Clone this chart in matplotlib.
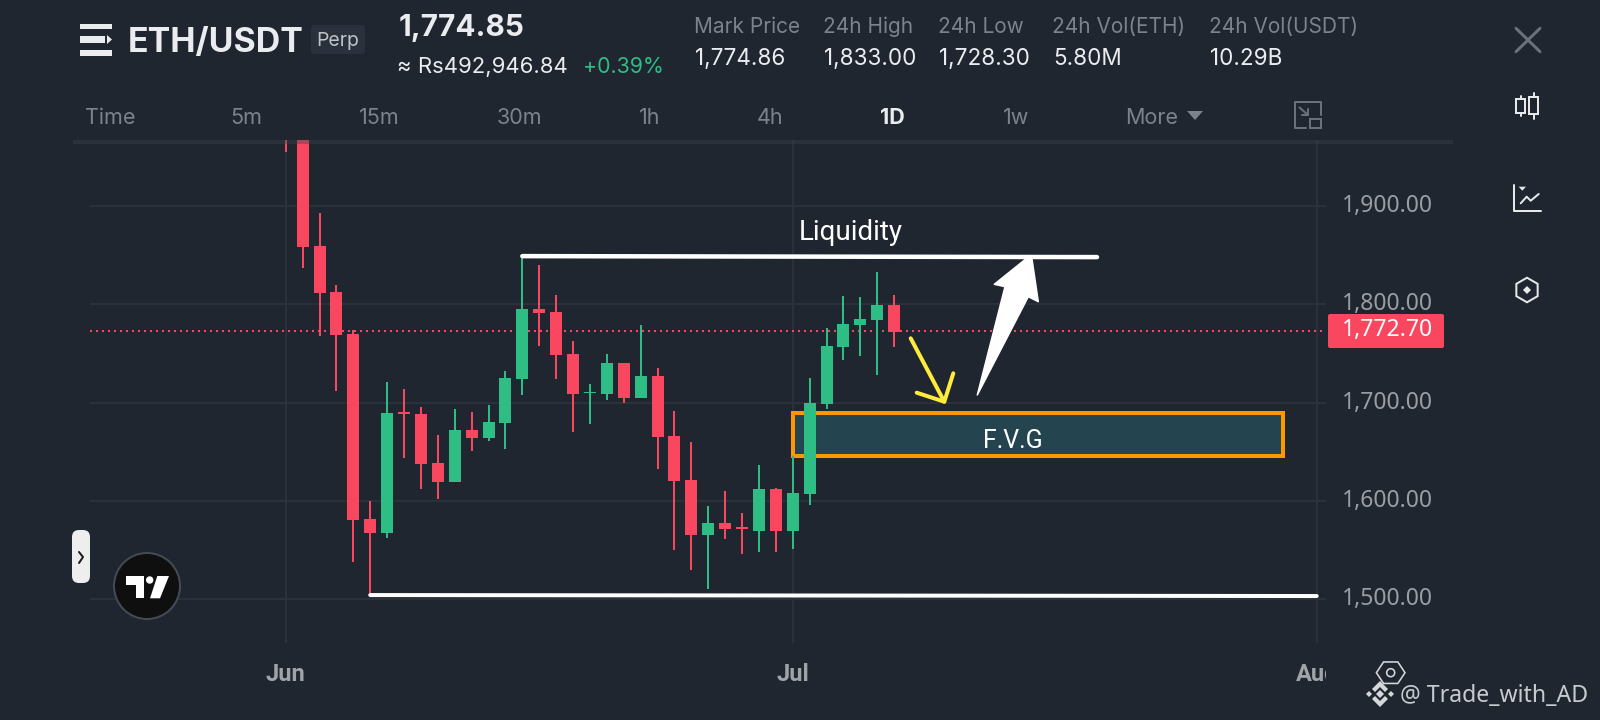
import numpy as np
import matplotlib
matplotlib.use("Agg")
import matplotlib.pyplot as plt
from matplotlib.patches import Rectangle, Polygon, Circle, FancyBboxPatch
from matplotlib.transforms import Bbox, IdentityTransform, TransformedBbox, ScaledTranslation

# candles (day 0 = 1 Jun)
opens = [2020, 1975, 1859.3, 1812.4, 1769.7, 1581.4, 1567.2, 1690.3, 1688.3, 1638.4,
         1619.1, 1672.0, 1663.8, 1679.1, 1724.0, 1795.2, 1792.1, 1749.3, 1709.3, 1708.7,
         1740.2, 1704.6, 1727.0, 1665.9, 1621.1, 1565.1, 1577.3, 1573.3, 1569.2, 1612.0,
         1569.2, 1606.9, 1698.5, 1756.5, 1778.9, 1784.0, 1799.2]
closes = [1975, 1858.3, 1811.4, 1768.7, 1580.4, 1567.2, 1689.3, 1688.3, 1637.4, 1619.1,
          1672.0, 1663.8, 1680.2, 1725.0, 1795.2, 1791.1, 1748.3, 1708.6, 1710.7, 1740.2,
          1704.6, 1727.0, 1664.9, 1620.1, 1565.1, 1577.3, 1571.2, 1571.2, 1612.0, 1569.2,
          1607.9, 1699.5, 1757.5, 1779.9, 1785.0, 1799.2, 1771.7]
highs = [2040, 1985, 1892.9, 1819.6, 1773.8, 1599.7, 1720.9, 1713.7, 1695.4, 1667.0,
         1693.4, 1690.3, 1697.4, 1732.1, 1849.0, 1840.0, 1809.4, 1762.6, 1718.8, 1749.4,
         1740.2, 1778.9, 1735.1, 1691.3, 1659.8, 1594.7, 1610.0, 1587.5, 1636.4, 1613.0,
         1645.6, 1724.9, 1775.8, 1808.4, 1807.4, 1832.8, 1809.4]
lows = [1955, 1837.2, 1768.0, 1711.7, 1537.6, 1503.0, 1562.1, 1643.5, 1612.0, 1601.8,
        1619.1, 1650.6, 1660.8, 1652.7, 1707.6, 1757.5, 1724.0, 1670.0, 1678.0, 1702.5,
        1699.5, 1704.6, 1632.3, 1549.9, 1529.5, 1510.2, 1561.0, 1545.8, 1547.8, 1547.8,
        1550.9, 1595.7, 1693.4, 1743.3, 1747.3, 1728.0, 1756.5]

price_ticks = [1500, 1600, 1700, 1800, 1900]
month_ticks = [0, 30, 61]
month_labels = ["Jun", "Jul", "Aug"]
last_price = 1772.8

# hand drawn levels on the chart
liquidity_days = [14, 48]
liquidity_prices = [1849, 1848]
support_days = [5, 61]
support_prices = [1504, 1503]
fvg_days = [30, 59]
fvg_prices = [1645.5, 1689]

stat_names = ["Mark Price", "24h High", "24h Low", "24h Vol(ETH)", "24h Vol(USDT)"]
stat_values = ["1,774.86", "1,833.00", "1,728.30", "5.80M", "10.29B"]
stat_x = [694, 823, 938, 1052, 1209]
tab_names = ["Time", "5m", "15m", "30m", "1h", "4h", "1D", "1w", "More"]
tab_x = [110, 246, 379, 519, 650, 770, 892, 1016, 1152]

BG = "#1f2630"
GRID = "#2a313b"
RED = "#f8475f"
GREEN = "#2ebd85"
ICON = "#e6e8ea"
MUTED = "#7d838c"


def px(n):
    # pixels to points at dpi 100
    return n * 0.72


plt.rcParams["font.family"] = ["Inter", "Noto Sans", "DejaVu Sans"]
fig = plt.figure(figsize=(16, 7.2), dpi=100, facecolor=BG)

# chart axes, pixel box x 90-1326, y 140-643
ax = fig.add_axes([90 / 1600, 1 - 643 / 720, (1326 - 90) / 1600, (643 - 140) / 720], facecolor=BG)
ax.set_xlim(-11.58, 61.55)
ax.set_ylim(1455.2, 1967.2)
for s in ax.spines.values():
    s.set_visible(False)
ax.grid(True, color=GRID, lw=px(2))
ax.set_axisbelow(True)
ax.yaxis.tick_right()
ax.set_yticks(price_ticks)
ax.set_yticklabels([f"{p:,.2f}" for p in price_ticks], family=["Noto Sans", "DejaVu Sans"],
                   fontsize=16.5, color="#9a9ea4")
ax.set_xticks(month_ticks)
ax.set_xticklabels(month_labels, family=["Roboto", "DejaVu Sans"], fontweight="bold",
                   fontsize=17, color="#a0a4a8")
ax.tick_params(axis="both", length=0)
ax.tick_params(axis="y", pad=px(16))
ax.tick_params(axis="x", pad=px(20))

# price labels sit a little above their grid lines
shift_up = ScaledTranslation(0, 3 / 100, fig.dpi_scale_trans)
for lab in ax.get_yticklabels():
    lab.set_transform(lab.get_transform() + shift_up)

# Aug is cut off by the edge of the time axis
clip = TransformedBbox(Bbox([[0, 0], [1326, 720]]), IdentityTransform())
for lab in ax.get_xticklabels():
    lab.set_clip_box(clip)
    lab.set_clip_on(True)

ax.axhline(last_price, color=RED, lw=px(2), dashes=(1, 2), zorder=2)

# F.V.G box sits below the candles
ax.add_patch(Rectangle((fvg_days[0], fvg_prices[0]), fvg_days[1] - fvg_days[0],
                       fvg_prices[1] - fvg_prices[0], facecolor="#24444f",
                       edgecolor="#ff9800", lw=px(4), zorder=2.5))

days = np.arange(len(opens))
o = np.array(opens)
c = np.array(closes)
colors = [GREEN if b >= a else RED for a, b in zip(o, c)]
ax.vlines(days, lows, highs, colors=colors, lw=px(2), zorder=3)
ax.bar(days, np.abs(c - o), bottom=np.minimum(o, c), width=0.71, color=colors, zorder=3)

ax.plot(liquidity_days, liquidity_prices, color="white", lw=px(4.5), solid_capstyle="round", zorder=4)
ax.plot(support_days, support_prices, color="white", lw=px(4), solid_capstyle="round", zorder=4)

# overlay in screen pixels for the app chrome and the drawings
ov = fig.add_axes([0, 0, 1, 1], facecolor="none")
ov.set_xlim(0, 1600)
ov.set_ylim(720, 0)
ov.axis("off")


def label(x, y, s, size, color="white", ha="left", weight="normal", family=None):
    fam = family or ["Inter", "Noto Sans", "DejaVu Sans"]
    ov.text(x, y, s, fontsize=size, color=color, ha=ha, va="center", fontweight=weight, family=fam)


def stroke(xs, ys, color=ICON, w=2):
    ov.plot(xs, ys, color=color, lw=px(w), solid_capstyle="round", solid_joinstyle="round")


# strip under the toolbar
ov.add_patch(Rectangle((73, 140), 1380, 4, facecolor="#3d444e", alpha=0.4, lw=0))

# header
for y0, y1, x1 in [(24, 29, 112), (36, 43, 105), (50, 56, 112)]:
    ov.add_patch(Rectangle((80, y0), x1 - 80, y1 - y0, facecolor="#eaecef", lw=0))
ov.add_patch(Polygon([(107, 35), (112, 39.5), (107, 44)], facecolor="#eaecef", lw=0))
label(128, 43, "ETH/USDT", 24.4, "#eaecef", weight="bold")
ov.add_patch(FancyBboxPatch((313, 27), 50, 25, boxstyle="round,pad=2,rounding_size=3",
                            facecolor="#2b313c", lw=0))
label(338, 41, "Perp", 14, "#c0c4c8", ha="center")
label(399, 28, "1,774.85", 21.4, "#eaecef", weight="bold")
label(397, 67, "≈ Rs492,946.84", 15.9, "#eaecef")
label(583, 67, "+0.39%", 15.4, GREEN)
for x, name, value in zip(stat_x, stat_names, stat_values):
    label(x, 27, name, 15, MUTED)
    label(x + 1, 59, value, 16.2, "#eaecef")

# interval tabs
for x, name in zip(tab_x, tab_names):
    if name == "1D":
        label(x, 118, name, 15.5, "#eaecef", ha="center", weight="bold")
    else:
        label(x, 118, name, 15.5, MUTED, ha="center")
ov.add_patch(Polygon([(1187, 111), (1203, 111), (1195, 120)], facecolor=MUTED, lw=0))
stroke([1306, 1295, 1295, 1321, 1321], [128, 128, 102, 102, 115], "#6b717a")
ov.add_patch(Rectangle((1310, 118.5), 10.5, 9, facecolor="none", edgecolor="#6b717a", lw=px(2)))
stroke([1299.5, 1308], [107.5, 115], "#6b717a")
stroke([1302, 1308, 1308], [115, 115, 109], "#6b717a")

# right side icons
stroke([1516, 1540], [28.3, 51.7], "#6b717a", 3)
stroke([1516, 1540], [51.7, 28.3], "#6b717a", 3)
ov.add_patch(Rectangle((1516, 99.3), 9, 13.4, facecolor="none", edgecolor=ICON, lw=px(2)))
ov.add_patch(Rectangle((1529.3, 97.3), 9, 16.7, facecolor="none", edgecolor=ICON, lw=px(2)))
stroke([1520.5, 1520.5], [96, 99.3])
stroke([1520.5, 1520.5], [112.7, 116])
stroke([1533.8, 1533.8], [93.3, 97.3])
stroke([1533.8, 1533.8], [114, 118.7])
stroke([1514, 1514, 1540.7], [185, 210.7, 210.7])
stroke([1520.7, 1526.7, 1530.7, 1538.7], [203.3, 196.7, 200.7, 194])
ov.add_patch(Polygon([(1518.7, 186.7), (1526, 186.7), (1522.3, 190.7)], facecolor=ICON, lw=0))
ang = np.radians(np.arange(6) * 60 + 90)
ov.add_patch(Polygon(np.c_[1527 + 12.3 * np.cos(ang), 290 + 12.3 * np.sin(ang)], facecolor="none",
                     edgecolor=ICON, lw=px(2)))
ov.add_patch(Polygon([(1527, 286), (1531, 290), (1527, 294), (1523, 290)], facecolor=ICON, lw=0))

# last price tag
ov.add_patch(FancyBboxPatch((1329, 315), 114, 32, boxstyle="round,pad=1,rounding_size=2",
                            facecolor=RED, lw=0))
label(1387, 330, f"{1772.70:,.2f}", 16.5, "white", ha="center", family=["Noto Sans", "DejaVu Sans"])

# drawings on the chart
label(851, 233, "Liquidity", 20, "white", ha="center", family=["Roboto", "DejaVu Sans"])
label(1013, 441, "F.V.G", 18, "white", ha="center", family=["Roboto", "DejaVu Sans"])
ov.add_patch(Polygon([(1028.3, 257), (1031.7, 257), (1038.3, 301.7), (1028.3, 296.7), (977.3, 395),
                      (1005, 286.7), (994.3, 284.3)], facecolor="white", edgecolor="white",
                     lw=px(1.5), joinstyle="round", zorder=5))
stroke([910.7, 944.3], [338.3, 401.7], "#ffeb3b", 4)
stroke([916.7, 944.3, 953.3], [392.7, 401.7, 373.3], "#ffeb3b", 4)

# slider and TradingView badge
ov.add_patch(FancyBboxPatch((76, 534), 10, 45, boxstyle="round,pad=4,rounding_size=7",
                            facecolor="#eeeeee", lw=0))
stroke([79, 83, 79], [552, 557, 563], "#1a1a1a", 2)
ov.add_patch(Circle((147, 586), 33, facecolor="#0f0f0f", edgecolor="#444b54", lw=px(2)))
ov.add_patch(Polygon([(126, 576), (144.3, 576), (144.3, 598.3), (135.7, 598.3), (135.7, 584.7), (126, 584.7)],
                     facecolor="white", lw=0))
ov.add_patch(Circle((149.7, 580), 3.7, facecolor="white", lw=0))
ov.add_patch(Polygon([(157.3, 576), (169, 576), (160, 598.3), (150, 598.3)], facecolor="white", lw=0))

# watermark
WM = "#d5d7da"
ang = np.radians(np.arange(6) * 60)
ov.add_patch(Polygon(np.c_[1390.7 + 14.3 * np.cos(ang), 672.7 + 12.4 * np.sin(ang)], facecolor="none",
                     edgecolor=WM, lw=px(1.6)))
ov.add_patch(Circle((1390.7, 672.7), 4, facecolor="none", edgecolor=WM, lw=px(1.6)))
lx, ly = 1380, 694
top = np.array([(0, -13), (8, -5), (5, -2), (0, -7), (-5, -2), (-8, -5)], dtype=float)
ov.add_patch(Polygon(top + (lx, ly), facecolor=WM, lw=0))
ov.add_patch(Polygon(top * (1, -1) + (lx, ly), facecolor=WM, lw=0))
for dx, r in [(0, 4), (-11, 3), (11, 3)]:
    ov.add_patch(Polygon([(lx + dx, ly - r), (lx + dx + r, ly), (lx + dx, ly + r), (lx + dx - r, ly)],
                         facecolor=WM, lw=0))
label(1400, 696, "@ Trade_with_AD", 16.6, "#c8cbce", family=["Noto Sans", "DejaVu Sans"])

fig.savefig("out.png", dpi=100, facecolor=BG)
